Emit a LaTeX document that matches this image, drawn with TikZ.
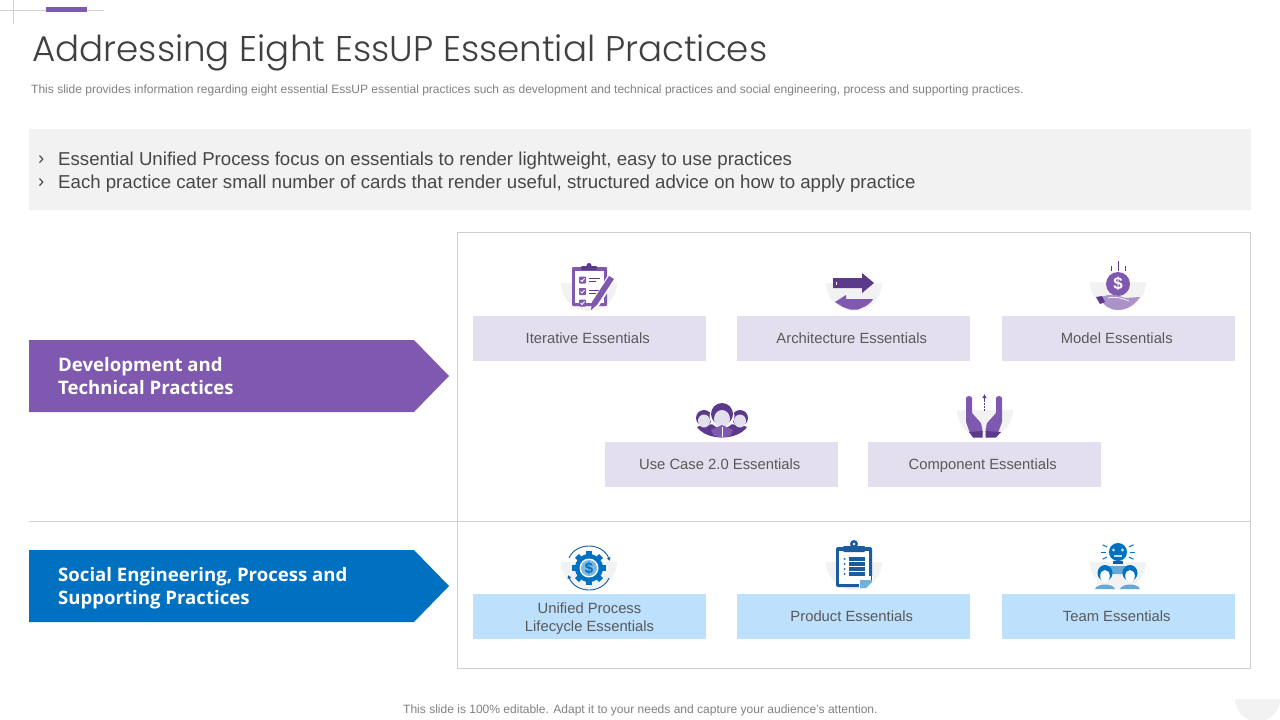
\documentclass[tikz,border=0pt]{standalone}
\usepackage{fontspec}
\setmainfont{Liberation Sans}
\newfontfamily\titlefont{Poppins Light}
\newfontfamily\headfont{Open Sans}
\usetikzlibrary{arrows.meta}

\definecolor{purplemain}{HTML}{7F58AF}
\definecolor{purpledark}{HTML}{5B3A8C}
\definecolor{purplelight}{HTML}{E3DFEE}
\definecolor{bluemain}{HTML}{0070C0}
\definecolor{bluedark}{HTML}{1A5C9E}
\definecolor{bluelight}{HTML}{BDE0FD}
\definecolor{panelgray}{HTML}{F2F2F2}
\definecolor{linegray}{HTML}{D0CECE}

\tikzset{
    essential/.style={minimum width=233pt,minimum height=45pt,inner sep=0pt,align=center,
        text=black!65,font=\fontsize{14.8}{18}\selectfont,
        execute at begin node={\rule{0pt}{14.6pt}},execute at end node=\strut},
    devbox/.style={essential,fill=purplelight},
    socbox/.style={essential,fill=bluelight},
    headtext/.style={anchor=west,align=left,text=white,
        font=\headfont\bfseries\fontsize{18.6}{23}\selectfont},
    bullettext/.style={anchor=west,text=black!72,font=\fontsize{18.65}{23}\selectfont},
    smalltext/.style={anchor=west,text=black!50,font=\fontsize{12.03}{14}\selectfont},
    coin/.style={text=white,inner sep=0pt,font=\bfseries\fontsize{17}{17}\selectfont},
    frameline/.style={linegray,line width=0.7pt}
}

% half disc behind every icon
\newcommand{\iconbowl}[2]{\fill[panelgray] (#1-28,#2) arc (180:0:28) -- cycle;}
% nudge one line of box text to the left
\newcommand{\lefttext}[1]{#1\hspace*{3.5pt}}

\begin{document}
\begin{tikzpicture}[x=1pt,y=-1pt]

    \useasboundingbox (0,0) rectangle (1280,720);

    % corner marks
    \draw[frameline] (0,10) -- (104,10);
    \draw[frameline] (13,0) -- (13,24);
    \fill[purplemain] (46,7) rectangle (87,12);
    \fill[panelgray] (1235,699) arc (180:0:22.5) -- cycle;

    % title
    \node[anchor=west,inner sep=0pt,text=black!75,font=\titlefont\fontsize{35.7}{40}\selectfont] (title) at (32,53) {Addressing Eight EssUP Essential Practices};
    \node[smalltext,inner sep=0pt] (subtitle) at (31,90.5) {This slide provides information regarding eight essential EssUP essential practices such as development and technical practices and social engineering, process and supporting practices.};

    % grey panel
    \fill[panelgray] (29,129) rectangle (1251,210);
    \node[bullettext,inner sep=0pt] (markone) at (38,160.5) {›};
    \node[bullettext,inner sep=0pt] (marktwo) at (38,183.5) {›};
    \node[bullettext,inner sep=0pt] (lineone) at (58,160.5) {Essential Unified Process focus on essentials to render lightweight, easy to use practices};
    \node[bullettext,inner sep=0pt] (linetwo) at (58,183.5) {Each practice cater small number of cards that render useful, structured advice on how to apply practice};

    % frame and dividers
    \draw[frameline] (457.5,232.5) rectangle (1250.5,668.5);
    \draw[frameline] (29,521) -- (1250.5,521);

    % big arrows
    \fill[purplemain] (29,340) -- (414,340) -- (449,376) -- (414,412) -- (29,412) -- cycle;
    \fill[bluemain] (29,550) -- (414,550) -- (449,586) -- (414,622) -- (29,622) -- cycle;
    \node[headtext,inner sep=0pt] (devhead) at (58,376) {Development and\\Technical Practices};
    \node[headtext,inner sep=0pt] (sochead) at (58,588) {Social Engineering, Process and\\Supporting Practices};

    % icon 1: clipboard
    \iconbowl{589}{283}
    \fill[purplemain,rounded corners=1pt] (572,267) rectangle (607,306);
    \fill[white] (575,271) rectangle (604,303);
    \fill[purpledark,rounded corners=1pt] (581,266) rectangle (597,270);
    \fill[purpledark] (589,265.5) circle (2.5);
    \foreach \y in {280,291.5,303} {
        \fill[purplemain,rounded corners=0.8pt] (579,\y-3.5) rectangle (586,\y+3.5);
        \draw[white,line width=0.9pt] (580.5,\y) -- (582,\y+1.5) -- (584.5,\y-1.5);
    }
    \foreach \y in {280,291.5} {
        \draw[purpledark,line width=0.8pt] (589,\y-1.5) -- (600,\y-1.5);
        \draw[purpledark,line width=0.8pt] (589,\y+1.5) -- (596,\y+1.5);
    }
    \fill[white] (592,309) -- (592,302) -- (608,275) -- (616,279) -- (597,309) -- cycle;
    \fill[purplemain] (591,310) -- (592,302) -- (609,276) -- (614,279) -- (597,305) -- cycle;

    % icon 2: two arrows
    \iconbowl{854}{283}
    \fill[purpledark] (833,278) -- (862,278) -- (862,273) -- (874,283) -- (862,293) -- (862,288) -- (833,288) -- cycle;
    \fill[white] (836,282) rectangle (837,285);
    \fill[purplemain] (835,302) -- (846,295) -- (846,299) -- (873,299) -- (871,302) -- (866,306) -- (858,309.5) -- (850,309.5) -- (843,307) -- cycle;

    % icon 3: coin in a hand
    \iconbowl{1118}{282}
    \foreach \x/\t in {1111/266,1118/261,1125/266}
        \draw[purpledark,line width=1pt] (\x,\t) -- (\x,271);
    \fill[purplemain] (1118,284) circle (12);
    \node[coin] (dollarone) at (1118,284) {\$};
    \fill[purplemain!65] (1100,298) .. controls (1108,293) and (1118,295) .. (1125,298) -- (1140,297) .. controls (1134,306) and (1126,310) .. (1118,310) .. controls (1110,310) and (1104,306) .. (1100,298) -- cycle;
    \fill[purpledark] (1096,297) -- (1102,296) -- (1105,302) -- (1100,304) -- cycle;
    \draw[white,line width=0.7pt] (1108,298) .. controls (1116,296) and (1124,299) .. (1129,301);

    % icon 4: three people
    \fill[purpledark] (697,427) .. controls (706,423) and (738,423) .. (747,427) .. controls (742,434) and (732,437.5) .. (722,437.5) .. controls (712,437.5) and (702,434) .. (697,427) -- cycle;
    \fill[purpledark] (704,418) circle (8);
    \fill[purpledark] (740,418) circle (8);
    \fill[purplelight] (704,421) ellipse (6 and 6.5);
    \fill[purplelight] (740,421) ellipse (6 and 6.5);
    \fill[white] (722,416) circle (12.5);
    \fill[purpledark] (722,414) circle (11);
    \fill[purplelight] (722,419) ellipse (8 and 9);
    \fill[purplemain] (711,430) -- (722,425) -- (733,430) -- (730,436) -- (722,437.5) -- (714,436) -- cycle;
    \draw[white,line width=0.5pt] (722,427) -- (722,437);

    % icon 5: two open hands
    \iconbowl{985}{410}
    \fill[purplemain,rounded corners=1pt] (966,399) arc (180:360:3) -- (972,413) -- (981,423) -- (982.5,430) -- (982.5,433) -- (970,433) -- (966,422) -- cycle;
    \fill[purplemain,rounded corners=1pt] (1002,399) arc (0:-180:3) -- (996,413) -- (987,423) -- (985.5,430) -- (985.5,433) -- (998,433) -- (1002,422) -- cycle;
    \fill[purpledark] (969,432) -- (982.5,431) -- (982.5,437.5) -- (973,437.5) -- cycle;
    \fill[purpledark] (1001,432) -- (985.5,431) -- (985.5,437.5) -- (996,437.5) -- cycle;
    \draw[purpledark,line width=1pt,-{Latex[length=4pt,width=4.5pt]}] (984.5,402) -- (984.5,394);
    \draw[purpledark,line width=1pt,dash pattern=on 1.5pt off 1.5pt] (984.5,403) -- (984.5,411);

    % icon 6: gear with coin
    \iconbowl{589}{562}
    \draw[bluedark,line width=0.9pt,-{Latex[length=3.5pt,width=4pt]}] (569,558) .. controls (576,542) and (602,542) .. (610,561);
    \draw[bluedark,line width=0.9pt,-{Latex[length=3.5pt,width=4pt]}] (609,578) .. controls (602,594) and (576,594) .. (568,575);
    \foreach \a in {0,45,...,315}
        \draw[bluemain,line width=5.5pt] (589,568) ++(\a:11) -- ++(\a:6);
    \fill[bluemain] (589,568) circle (14);
    \fill[white] (589,568) circle (9.5);
    \fill[bluemain!50] (589,568) circle (8);
    \node[coin,text=bluemain,font=\bfseries\fontsize{15}{15}\selectfont] (dollartwo) at (589,568) {\$};

    % icon 7: report on a clipboard
    \iconbowl{854}{562}
    \fill[bluedark,rounded corners=2pt] (836,547) rectangle (872,587);
    \fill[white] (839,551) rectangle (869,584);
    \fill[bluedark,rounded corners=1pt] (843,546) rectangle (865,552);
    \fill[bluedark] (854,544) circle (4);
    \fill[white] (854,544) circle (1.3);
    \foreach \y in {559,564,569,574} {
        \fill[bluedark] (844.5,\y) circle (1);
        \fill[bluedark] (849,\y-1.8) rectangle (865,\y+1.8);
    }
    \fill[white] (859,588) rectangle (873,576);
    \draw[bluedark,line width=1.2pt] (871.5,574) -- (871.5,580);
    \fill[bluemain!55] (860,588) -- (860,580) -- (872,580) -- (872,582) -- (866,588) -- cycle;

    % icon 8: team and idea
    \iconbowl{1118}{562}
    \foreach \a in {-155,-180,155,-25,0,25}
        \draw[bluemain,line width=1pt] (1118,552) ++(\a:12) -- ++(\a:5);
    \fill[bluemain] (1118,552) circle (9);
    \fill[bluelight] (1113.5,550) circle (1.7);
    \fill[bluelight] (1122.5,550) circle (1.7);
    \fill[bluelight] (1114,555) rectangle (1122,557);
    \fill[bluedark] (1113,561) rectangle (1123,564);
    \fill[bluemain!60] (1107,566) -- (1129,566) -- (1124,574) -- (1112,574) -- cycle;
    \foreach \x in {1105,1130} {
        \fill[bluemain] (\x,573) ellipse (7.5 and 8);
        \fill[white] (\x,576) ellipse (4.8 and 6);
        \fill[bluemain!60] (\x-10,589) .. controls (\x-8,583) and (\x+8,583) .. (\x+10,589) -- cycle;
    }

    % essentials, first row
    \node[devbox] (iterative) at (589.5,338.5) {\lefttext{Iterative Essentials}};
    \node[devbox] (architecture) at (853.5,338.5) {\lefttext{Architecture Essentials}};
    \node[devbox] (model) at (1118.5,338.5) {\lefttext{Model Essentials}};
    \node[devbox] (usecase) at (721.5,464.5) {\lefttext{Use Case 2.0 Essentials}};
    \node[devbox] (component) at (984.5,464.5) {\lefttext{Component Essentials}};

    % essentials, second part
    \node[socbox] (lifecycle) at (589.5,616.5) {\rule{0pt}{16.5pt}Unified Process\\Lifecycle Essentials};
    \node[socbox] (product) at (853.5,616.5) {\lefttext{Product Essentials}};
    \node[socbox] (team) at (1118.5,616.5) {\lefttext{Team Essentials}};

    % footer
    \node[smalltext,inner sep=0pt] (footer) at (403,710) {This slide is 100\% editable. Adapt it to your needs and capture your audience's attention.};

\end{tikzpicture}
\end{document}
